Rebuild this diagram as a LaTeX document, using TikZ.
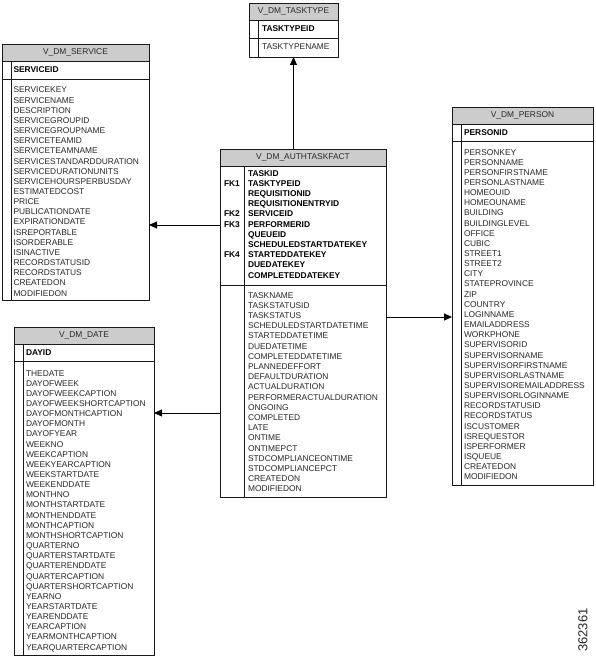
\documentclass[tikz,border=0pt]{standalone}
\usepackage{fontspec}
\setmainfont{Liberation Sans}
\usetikzlibrary{arrows.meta}
\definecolor{hdrgray}{RGB}{204,204,204}
\definecolor{txt}{RGB}{40,40,40}
\tikzset{
  tbl/.style={draw=black!90, line width=0.8pt, inner sep=0pt, outer sep=0pt, anchor=north west},
  hdr/.style={tbl, fill=hdrgray, text=txt, font=\fontsize{8.4}{10}\selectfont},
  fld/.style={anchor=base west, inner sep=0pt, outer sep=0pt, text=txt, font=\fontsize{8.4}{10}\selectfont},
  pkf/.style={fld, text=black, font=\fontsize{8.4}{10}\selectfont\bfseries},
  ln/.style={draw=black!90, line width=0.8pt},
  conn/.style={draw=black, line width=0.8pt, -{Triangle[length=8pt,width=7pt]}}
}
\begin{document}
\begin{tikzpicture}[x=1pt,y=-1pt]
\useasboundingbox[fill=white] (0,0) rectangle (596,658);

% ---------------- V_DM_TASKTYPE
\node[hdr, minimum width=89pt, minimum height=17pt] (tth) at (249,3) {V\_DM\_TASKTYPE};
\node[tbl, minimum width=89pt, minimum height=18pt] (ttpk) at (249,20) {};
\node[tbl, minimum width=89pt, minimum height=19pt] (tt) at (249,38) {};
\draw[ln] (258,20) -- (258,57);
\node[pkf] (ttpkt) at (262,32) {TASKTYPEID};
\node[fld] (ttf) at (262,50) {TASKTYPENAME};

% ---------------- V_DM_SERVICE
\node[hdr, minimum width=147pt, minimum height=17pt] (svh) at (2,44) {V\_DM\_SERVICE};
\node[tbl, minimum width=147pt, minimum height=18pt] (svpk) at (2,61) {};
\node[tbl, minimum width=147pt, minimum height=221pt] (sv) at (2,79) {};
\draw[ln] (11,61) -- (11,300);
\node[pkf] (svpkt) at (13.5,73) {SERVICEID};
\foreach \t [count=\i from 0] in {SERVICEKEY,SERVICENAME,DESCRIPTION,SERVICEGROUPID,SERVICEGROUPNAME,SERVICETEAMID,SERVICETEAMNAME,SERVICESTANDARDDURATION,SERVICEDURATIONUNITS,SERVICEHOURSPERBUSDAY,ESTIMATEDCOST,PRICE,PUBLICATIONDATE,EXPIRATIONDATE,ISREPORTABLE,ISORDERABLE,ISINACTIVE,RECORDSTATUSID,RECORDSTATUS,CREATEDON,MODIFIEDON}
  \node[fld] (sv-\i) at (13.5,93+\i*10.15) {\t};

% ---------------- V_DM_AUTHTASKFACT
\node[hdr, minimum width=166pt, minimum height=17pt] (fah) at (220,149) {V\_DM\_AUTHTASKFACT};
\node[tbl, minimum width=166pt, minimum height=119pt] (fapk) at (220,166) {};
\node[tbl, minimum width=166pt, minimum height=212pt] (fa) at (220,285) {};
\draw[ln] (244,166) -- (244,497);
\foreach \t [count=\i from 0] in {TASKID,TASKTYPEID,REQUISITIONID,REQUISITIONENTRYID,SERVICEID,PERFORMERID,QUEUEID,SCHEDULEDSTARTDATEKEY,STARTEDDATEKEY,DUEDATEKEY,COMPLETEDDATEKEY}
  \node[pkf] (fak-\i) at (248,176+\i*10.2) {\t};
\node[pkf] (fk1) at (224,176+1*10.2) {FK1};
\node[pkf] (fk2) at (224,176+4*10.2) {FK2};
\node[pkf] (fk3) at (224,176+5*10.2) {FK3};
\node[pkf] (fk4) at (224,176+8*10.2) {FK4};
\foreach \t [count=\i from 0] in {TASKNAME,TASKSTATUSID,TASKSTATUS,SCHEDULEDSTARTDATETIME,STARTEDDATETIME,DUEDATETIME,COMPLETEDDATETIME,PLANNEDEFFORT,DEFAULTDURATION,ACTUALDURATION,PERFORMERACTUALDURATION,ONGOING,COMPLETED,LATE,ONTIME,ONTIMEPCT,STDCOMPLIANCEONTIME,STDCOMPLIANCEPCT,CREATEDON,MODIFIEDON}
  \node[fld] (faf-\i) at (248,298+\i*10.2) {\t};

% ---------------- V_DM_PERSON
\node[hdr, minimum width=141pt, minimum height=17pt] (peh) at (452,107) {V\_DM\_PERSON};
\node[tbl, minimum width=141pt, minimum height=17pt] (pepk) at (452,124) {};
\node[tbl, minimum width=141pt, minimum height=344pt] (pe) at (452,141) {};
\draw[ln] (461,124) -- (461,485);
\node[pkf] (pepkt) at (464,135.5) {PERSONID};
\foreach \t [count=\i from 0] in {PERSONKEY,PERSONNAME,PERSONFIRSTNAME,PERSONLASTNAME,HOMEOUID,HOMEOUNAME,BUILDING,BUILDINGLEVEL,OFFICE,CUBIC,STREET1,STREET2,CITY,STATEPROVINCE,ZIP,COUNTRY,LOGINNAME,EMAILADDRESS,WORKPHONE,SUPERVISORID,SUPERVISORNAME,SUPERVISORFIRSTNAME,SUPERVISORLASTNAME,SUPERVISOREMAILADDRESS,SUPERVISORLOGINNAME,RECORDSTATUSID,RECORDSTATUS,ISCUSTOMER,ISREQUESTOR,ISPERFORMER,ISQUEUE,CREATEDON,MODIFIEDON}
  \node[fld] (pe-\i) at (464,155+\i*10.15) {\t};

% ---------------- V_DM_DATE
\node[hdr, minimum width=140pt, minimum height=17pt] (dah) at (14,327) {V\_DM\_DATE};
\node[tbl, minimum width=140pt, minimum height=17pt] (dapk) at (14,344) {};
\node[tbl, minimum width=140pt, minimum height=294pt] (da) at (14,361) {};
\draw[ln] (23,344) -- (23,655);
\node[pkf] (dapkt) at (26,355.5) {DAYID};
\foreach \t [count=\i from 0] in {THEDATE,DAYOFWEEK,DAYOFWEEKCAPTION,DAYOFWEEKSHORTCAPTION,DAYOFMONTHCAPTION,DAYOFMONTH,DAYOFYEAR,WEEKNO,WEEKCAPTION,WEEKYEARCAPTION,WEEKSTARTDATE,WEEKENDDATE,MONTHNO,MONTHSTARTDATE,MONTHENDDATE,MONTHCAPTION,MONTHSHORTCAPTION,QUARTERNO,QUARTERSTARTDATE,QUARTERENDDATE,QUARTERCAPTION,QUARTERSHORTCAPTION,YEARNO,YEARSTARTDATE,YEARENDDATE,YEARCAPTION,YEARMONTHCAPTION,YEARQUARTERCAPTION}
  \node[fld] (da-\i) at (26,376+\i*10.15) {\t};

% ---------------- connectors
\draw[conn] (fah.north -| tt.south) -- (tt.south);
\draw[conn] (fapk.west |- 0,225) -- (sv.east |- 0,225);
\draw[conn] (fa.east |- 0,317) -- (pe.west |- 0,317);
\draw[conn] (fa.west |- 0,413) -- (da.east |- 0,413);

% ---------------- figure number
\node[rotate=90, inner sep=0pt, text=txt, font=\fontsize{13}{13}\selectfont] (fignum) at (583,630) {362361};
\end{tikzpicture}
\end{document}
